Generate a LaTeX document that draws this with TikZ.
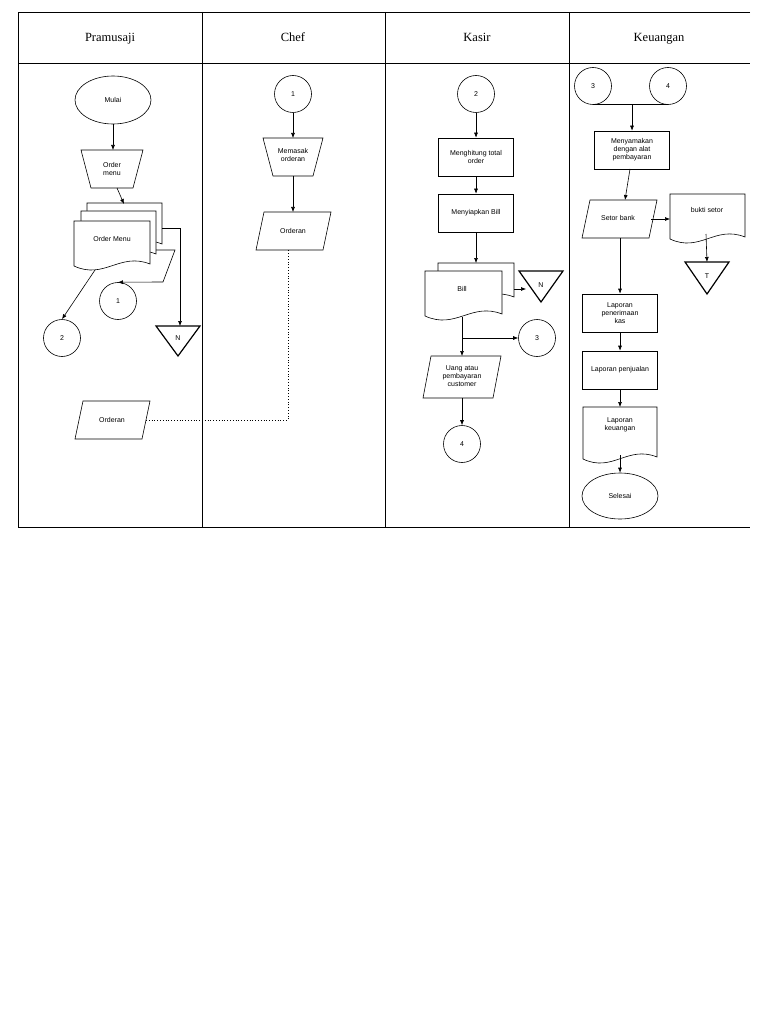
\documentclass[tikz,border=0pt]{standalone}
\usepackage{fontspec}
\setmainfont{Liberation Sans}
\newfontfamily\hdrfont{Liberation Serif}
\usetikzlibrary{arrows.meta,shapes.geometric}
% doc shape: x1 y1 x2 y2
\newcommand{\fcDoc}[4]{\draw[fill=white] (#1,#2) -- (#3,#2) -- (#3,#4-8) .. controls ({#3-0.4*(#3-#1)},#4-20) and ({#1+0.4*(#3-#1)},#4+8) .. (#1,#4-6) -- cycle;}
% trapezoid inverted: cx top-y bottom-y halftop halfbottom
\newcommand{\fcTrap}[5]{\draw (#1-#4,#2) -- (#1+#4,#2) -- (#1+#5,#3) -- (#1-#5,#3) -- cycle;}
% parallelogram: x1 y1 x2 y2 slant
\newcommand{\fcPara}[5]{\draw (#1+#5,#2) -- (#3,#2) -- (#3-#5,#4) -- (#1,#4) -- cycle;}
% inverted triangle: cx top halfwidth apex-y
\newcommand{\fcTri}[4]{\draw[line width=1.2pt] (#1-#3,#2) -- (#1+#3,#2) -- (#1,#4) -- cycle;}
\begin{document}
\begin{tikzpicture}[x=1pt,y=-1pt,line width=0.6pt,
  lbl/.style={font=\fontsize{7}{8}\selectfont,align=center,inner sep=1pt},
  hdr/.style={font=\hdrfont\fontsize{12.5}{14}\selectfont,anchor=base},
  ar/.style={-{Latex[length=5pt,width=4pt]}},
  circ/.style={draw,circle,minimum size=37pt,inner sep=0pt,font=\fontsize{7}{8}\selectfont},
  rbox/.style={draw,minimum width=75pt,minimum height=38pt,inner sep=1pt,align=center,font=\fontsize{7}{8}\selectfont}]
\useasboundingbox (0,0) rectangle (768,1024);
\fill[white] (0,0) rectangle (768,1024);
% table
\draw (750,12) -- (18,12) -- (18,527) -- (750,527);
\draw (18,63) -- (750,63);
\foreach \xx in {202,385,569} \draw (\xx,12) -- (\xx,527);
\node[hdr] at (110,42) {Pramusaji};
\node[hdr] at (293,42) {Chef};
\node[hdr] at (477,42) {Kasir};
\node[hdr] at (659,42) {Keuangan};
% ---- Pramusaji
\node[draw,ellipse,minimum width=76pt,minimum height=48pt,lbl] (mulai) at (113,100) {Mulai};
\fcTrap{112}{150}{188}{31}{21}
\node[lbl] (ordm) at (112,169) {Order\\menu};
\coordinate (ordmb) at (117,188);
\fcDoc{87}{203}{162}{252}
\fcDoc{81}{211}{156}{262}
\fcDoc{74}{221}{150}{272}
\node[lbl] (omdoc) at (112,239) {Order Menu};
\coordinate (omtop) at (124,204);
\draw[ar] (mulai.south) -- (113,150);
\draw[ar] (ordmb) -- (omtop);
\coordinate (omr) at (162,228);
\node[circ] (c1a) at (118,301) {1};
\node[circ] (c2a) at (62,338) {2};
\fcTri{178}{326}{22}{356}
\node[lbl] (na) at (178,338) {N};
\draw[ar] (omr) -- (180,228) -- (180,326);
\draw[ar] (156,250) -- (175,250) -- (163,282) -- (c1a.north);
\draw[ar] (95,270) -- (c2a.north);
\fcPara{75}{401}{150}{439}{8}
\node[lbl] (ord1) at (112,420) {Orderan};
% ---- Chef
\node[circ] (c1b) at (293,94) {1};
\fcTrap{293}{138}{176}{30}{20}
\node[lbl] (mem) at (293,155) {Memasak\\orderan};
\fcPara{256}{212}{331}{250}{8}
\node[lbl] (ord2) at (293,231) {Orderan};
\draw[ar] (c1b.south) -- (293,138);
\draw[ar] (293,176) -- (293,212);
\draw[dotted,line width=0.8pt] (146,420) -- (288,420) -- (288,250);
% ---- Kasir
\node[circ] (c2b) at (476,94) {2};
\node[rbox] (hit) at (476,157) {Menghitung total\\order};
\node[rbox] (bill) at (476,213) {Menyiapkan Bill};
\draw[ar] (c2b) -- (hit);
\draw[ar] (hit) -- (bill);
\fcDoc{438}{263}{514}{305}
\fcDoc{425}{271}{502}{322}
\node[lbl] (billd) at (462,289) {Bill};
\draw[ar] (bill.south) -- (476,263);
\fcTri{541}{271}{22}{302}
\node[lbl] (nb) at (541,285) {N};
\draw[ar] (514,289) -- (526,289);
\node[circ] (c3a) at (537,338) {3};
\fcPara{423}{356}{501}{398}{8}
\node[lbl] (uang) at (462,376) {Uang atau\\pembayaran\\customer};
\draw[ar] (462,317) -- (462,356);
\draw[ar] (462,338) -- (c3a.west);
\node[circ] (c4a) at (462,444) {4};
\draw[ar] (462,398) -- (c4a.north);
% ---- Keuangan
\node[circ] (c3b) at (593,86) {3};
\node[circ] (c4b) at (668,86) {4};
\node[rbox] (sam) at (632,150) {Menyamakan\\dengan alat\\pembayaran};
\draw (c3b.south) -- (c4b.south);
\draw[ar] (632,104.5) -- (sam.north);
\fcPara{582}{200}{657}{238}{8}
\node[lbl] (setor) at (618,218) {Setor bank};
\draw[ar] (630,169) -- (625,200);
\fcDoc{670}{194}{745}{245}
\node[lbl] (bukti) at (707,210) {bukti setor};
\draw[ar] (706,234) -- (707,262);
\draw[ar] (651,219) -- (670,219);
\fcTri{707}{262}{22}{294}
\node[lbl] (tt) at (707,276) {T};
\node[rbox] (lpk) at (620,313) {Laporan\\penerimaan\\kas};
\node[rbox] (lpj) at (620,370) {Laporan penjualan};
\draw[ar] (620,238) -- (lpk.north);
\draw[ar] (lpk) -- (lpj);
\fcDoc{583}{407}{657}{465}
\node[lbl] (lk) at (620,425) {Laporan\\keuangan};
\draw[ar] (lpj.south) -- (620,407);
\node[draw,ellipse,minimum width=76pt,minimum height=46pt,lbl] (sel) at (620,496) {Selesai};
\draw[ar] (620,455) -- (sel.north);
\end{tikzpicture}
\end{document}
